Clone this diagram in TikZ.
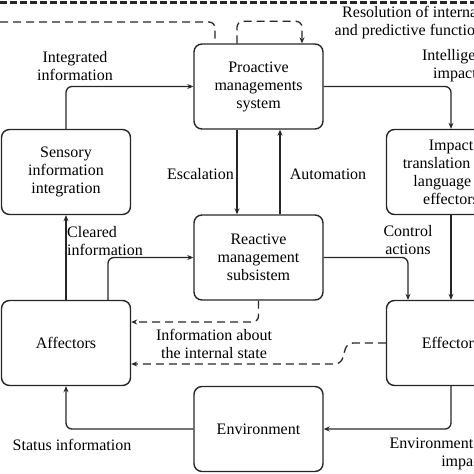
\documentclass[tikz,border=0pt]{standalone}
\usepackage{fontspec}
\setmainfont{Liberation Serif}
\usepackage{tikz}
\usetikzlibrary{arrows.meta}
\definecolor{ink}{HTML}{262626}

\begin{document}
\begin{tikzpicture}[x=1pt, y=-1pt,
  >={Stealth[length=6pt,width=5pt]},
  every node/.style={font=\fontsize{16}{18}\selectfont, text=black},
  block/.style={draw=ink, line width=1.4pt, rounded corners=8pt, minimum width=129pt, minimum height=85pt, align=center, inner sep=0pt},
  link/.style={draw=ink, line width=1.3pt, rounded corners=6pt},
  dashlink/.style={link, dash pattern=on 8pt off 5pt},
  lbl/.style={align=center, inner sep=0pt}]
\useasboundingbox (0,0) rectangle (474,474);
\clip (0,0) rectangle (474,474);

% boxes
\node[block] (pro) at (258.5,86.5) {Proactive\\managements\\system};
\node[block] (sens) at (66,172) {Sensory\\information\\integration};
\node[block] (imp) at (451,172) {Impact\\translation into\\language of\\effectors};
\node[block] (rea) at (258.5,257.5) {Reactive\\management\\subsistem};
\node[block] (aff) at (66,343) {Affectors};
\node[block] (eff) at (451,343) {Effectors};
\node[block] (env) at (258.5,429) {Environment};

% top frame and loops
\coordinate (fl) at (0,2);
\coordinate (fr) at (474,2);
\draw[ink, line width=3pt, dash pattern=on 7pt off 3pt] (fl) -- (fr);
\coordinate (tl) at (0,22);
\draw[dashlink] (tl) -| ([xshift=-43.5pt]pro.north);
\draw[dashlink, ->] ([xshift=-21.5pt]pro.north) -- ++(0,-22) -| ([xshift=43.5pt]pro.north);

% solid connectors
\draw[link, ->] (sens.north) |- (pro.west);
\draw[link, ->] (pro.east) -| (imp.north);
\draw[link, ->] ([xshift=-21.5pt]pro.south) -- ([xshift=-21.5pt]rea.north);
\draw[link, ->] ([xshift=21.5pt]rea.north) -- ([xshift=21.5pt]pro.south);
\draw[link, ->] (aff.north) -- (sens.south);
\draw[link, ->] ([xshift=42pt]aff.north) |- (rea.west);
\draw[link, ->] (rea.east) -| ([xshift=-43pt]eff.north);
\draw[link, ->] (imp.south) -- (eff.north);
\draw[link, ->] (eff.south) |- (env.east);
\draw[link, ->] (env.west) -| (aff.south);

% dashed feedback
\draw[dashlink, ->] (rea.south) |- ([yshift=21pt]aff.east);
\coordinate (j1) at (347,343);
\coordinate (j2) at (341,364);
\draw[dashlink, ->] (eff.west) -- (j1) -- (j2) -- ([yshift=-21pt]aff.east);

% labels
\node[lbl] (l1) at (75,66) {Integrated\\information};
\node[lbl] (l2) at (455,66) {Intelligent\\impact};
\node[lbl] (l3) at (412,22.5) {Resolution of internal\\and predictive functions};
\node[lbl] (l4) at (200.5,174) {Escalation};
\node[lbl] (l5) at (328,174) {Automation};
\node[lbl, align=left, anchor=west] (l6) at (67,241) {Cleared\\information};
\node[lbl] (l7) at (408,240) {Control\\actions};
\node[lbl] (l8) at (214,344) {Information about\\the internal state};
\node[lbl] (l9) at (72,445) {Status information};
\node[lbl, align=right, anchor=east] (l10) at (485,453.5) {Environmental\\impact};
\end{tikzpicture}
\end{document}
